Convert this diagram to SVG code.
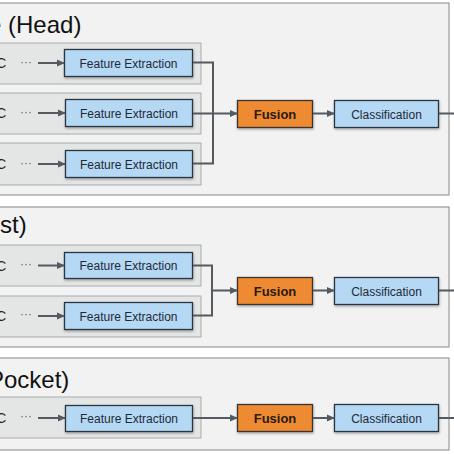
<svg xmlns="http://www.w3.org/2000/svg" width="454" height="454" viewBox="0 0 454 454">
<defs>
<marker id="ah" markerWidth="8" markerHeight="8" refX="7" refY="4" orient="auto" markerUnits="userSpaceOnUse">
<path d="M0,0.5 L8,4 L0,7.5 z" fill="#555a60"/>
</marker>
<filter id="sh" x="-10%" y="-20%" width="120%" height="160%">
<feDropShadow dx="0.5" dy="1.5" stdDeviation="1" flood-color="#000" flood-opacity="0.3"/>
</filter>
<style>
.panel{fill:#f2f2f2;stroke:#9a9a9a;stroke-width:1.2}
.row{fill:#e4e6e6;stroke:#a9acac;stroke-width:1}
.fe{fill:#b5d8f4;stroke:#2a3542;stroke-width:1.3;filter:url(#sh)}
.fu{fill:#ee8a30;stroke:#3a3230;stroke-width:1.3;filter:url(#sh)}
.title{font-family:"Liberation Sans",Arial,sans-serif;font-size:24px;fill:#111}
.c{font-family:"Liberation Sans",Arial,sans-serif;font-size:15px;fill:#222}
.dots{font-family:"Liberation Sans",Arial,sans-serif;font-size:12px;fill:#666666}
.lbl{font-family:"Liberation Sans",Arial,sans-serif;font-size:12px;fill:#1e2a36;text-anchor:middle}
.flbl{font-family:"Liberation Sans",Arial,sans-serif;font-size:13px;font-weight:bold;fill:#2a1a10;text-anchor:middle}
.ln{fill:none;stroke:#555a60;stroke-width:2}
</style>
</defs>
<rect width="454" height="454" fill="#ffffff"/>

<g id="panel-head">
<rect class="panel" x="-5" y="3" width="454" height="192"/>
<text class="title" x="-12" y="33">e (Head)</text>
<rect class="row" x="-5" y="43" width="206" height="41"/>
<rect class="row" x="-5" y="93" width="206" height="41"/>
<rect class="row" x="-5" y="143" width="206" height="42"/>
<text class="c" x="-4.5" y="68">C</text>
<text class="c" x="-4.5" y="118">C</text>
<text class="c" x="-4.5" y="169">C</text>
<text class="dots" x="20" y="66">···</text>
<text class="dots" x="20" y="116">···</text>
<text class="dots" x="20" y="167">···</text>
</g>
<g id="fe-h1"><rect class="fe" x="64.5" y="49.5" width="128" height="27"/><text class="lbl" x="128.5" y="67.5">Feature Extraction</text></g>
<g id="fe-h2"><rect class="fe" x="65.5" y="99.5" width="127" height="27"/><text class="lbl" x="129" y="117.5">Feature Extraction</text></g>
<g id="fe-h3"><rect class="fe" x="65.5" y="150.5" width="127" height="27"/><text class="lbl" x="129" y="168.5">Feature Extraction</text></g>
<g id="fusion-h"><rect class="fu" x="237.5" y="100.5" width="75" height="27"/><text class="flbl" x="275" y="118.5">Fusion</text></g>
<g id="class-h"><rect class="fe" x="334.5" y="100.5" width="104" height="27"/><text class="lbl" x="386.5" y="118.5">Classification</text></g>

<g id="panel-wrist">
<rect class="panel" x="-5" y="207" width="454" height="140"/>
<text class="title" x="0" y="233">st)</text>
<rect class="row" x="-5" y="245" width="206" height="41"/>
<rect class="row" x="-5" y="296" width="206" height="41"/>
<text class="c" x="-4.5" y="271">C</text>
<text class="c" x="-4.5" y="321">C</text>
<text class="dots" x="20" y="268">···</text>
<text class="dots" x="20" y="318">···</text>
</g>
<g id="fe-w1"><rect class="fe" x="64.5" y="252.5" width="128" height="26"/><text class="lbl" x="128.5" y="270">Feature Extraction</text></g>
<g id="fe-w2"><rect class="fe" x="64.5" y="302.5" width="128" height="27"/><text class="lbl" x="128.5" y="320.5">Feature Extraction</text></g>
<g id="fusion-w"><rect class="fu" x="237.5" y="277.5" width="75" height="27"/><text class="flbl" x="275" y="295.5">Fusion</text></g>
<g id="class-w"><rect class="fe" x="334.5" y="277.5" width="104" height="27"/><text class="lbl" x="386.5" y="295.5">Classification</text></g>

<g id="panel-pocket">
<rect class="panel" x="-5" y="358" width="454" height="92"/>
<text class="title" x="-12" y="388">Pocket)</text>
<rect class="row" x="-5" y="397" width="206" height="41"/>
<text class="c" x="-4.5" y="423">C</text>
<text class="dots" x="20" y="420">···</text>
</g>
<g id="fe-p1"><rect class="fe" x="65.5" y="405.5" width="127" height="26"/><text class="lbl" x="129" y="423">Feature Extraction</text></g>
<g id="fusion-p"><rect class="fu" x="237.5" y="404.5" width="75" height="27"/><text class="flbl" x="275" y="422.5">Fusion</text></g>
<g id="class-p"><rect class="fe" x="334.5" y="404.5" width="104" height="27"/><text class="lbl" x="386.5" y="422.5">Classification</text></g>

<g id="connectors">
<line class="ln" x1="38" y1="63" x2="64" y2="63" marker-end="url(#ah)"/>
<line class="ln" x1="38" y1="113" x2="65" y2="113" marker-end="url(#ah)"/>
<line class="ln" x1="38" y1="164" x2="65" y2="164" marker-end="url(#ah)"/>
<path class="ln" d="M193,62.5 H213 V163.5 H193"/>
<line class="ln" x1="193" y1="113.5" x2="237" y2="113.5" marker-end="url(#ah)"/>
<line class="ln" x1="313" y1="113.5" x2="334" y2="113.5" marker-end="url(#ah)"/>
<line class="ln" x1="439" y1="113.5" x2="454" y2="113.5"/>

<line class="ln" x1="38" y1="265.5" x2="64" y2="265.5" marker-end="url(#ah)"/>
<line class="ln" x1="38" y1="316" x2="64" y2="316" marker-end="url(#ah)"/>
<path class="ln" d="M193,265.5 H212 V315.5 H193"/>
<line class="ln" x1="212" y1="290.5" x2="237" y2="290.5" marker-end="url(#ah)"/>
<line class="ln" x1="313" y1="290.5" x2="334" y2="290.5" marker-end="url(#ah)"/>
<line class="ln" x1="439" y1="290.5" x2="454" y2="290.5"/>

<line class="ln" x1="38" y1="418" x2="65" y2="418" marker-end="url(#ah)"/>
<line class="ln" x1="193" y1="418" x2="237" y2="418" marker-end="url(#ah)"/>
<line class="ln" x1="313" y1="418" x2="334" y2="418" marker-end="url(#ah)"/>
<line class="ln" x1="439" y1="418" x2="454" y2="418"/>
</g>
</svg>
